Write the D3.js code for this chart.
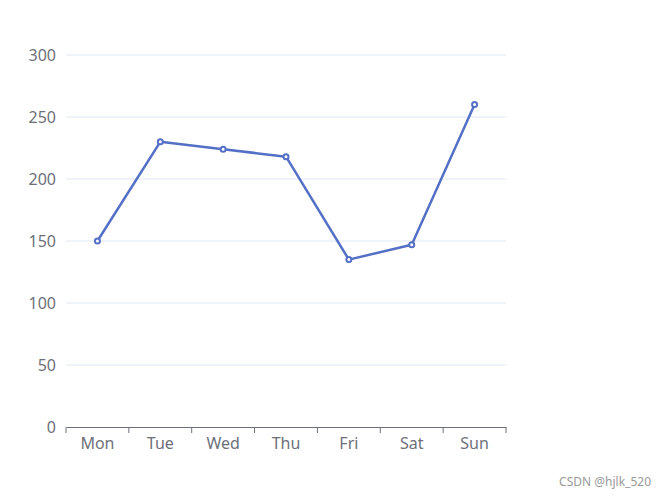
<!DOCTYPE html>
<html>
<head>
<meta charset="utf-8">
<script src="https://cdn.jsdelivr.net/npm/d3@7"></script>
<style>
  body { margin: 0; background: #fff; }
  text { font-family: "Microsoft YaHei", "Noto Sans", sans-serif; }
</style>
</head>
<body>
<svg id="chart" width="663" height="499"></svg>
<script>
const days = ["Mon", "Tue", "Wed", "Thu", "Fri", "Sat", "Sun"];
const values = [150, 230, 224, 218, 135, 147, 260];
const yTicks = [0, 50, 100, 150, 200, 250, 300];

const margin = { top: 55, right: 157, bottom: 72, left: 66 },
  width = 663 - margin.left - margin.right,
  height = 499 - margin.top - margin.bottom;

const svg = d3.select("#chart");
const g = svg.append("g").attr("transform", `translate(${margin.left},${margin.top})`);

const x = d3.scaleBand().domain(days).range([0, width]);
const y = d3.scaleLinear().domain([0, 300]).range([height, 0]);

// split lines
g.selectAll(".grid")
  .data(yTicks.slice(1))
  .enter()
  .append("line")
  .attr("x1", 0)
  .attr("x2", width)
  .attr("y1", (d) => y(d))
  .attr("y2", (d) => y(d))
  .attr("stroke", "#e0e6f1");

// y labels
g.selectAll(".ylab")
  .data(yTicks)
  .enter()
  .append("text")
  .attr("x", -10)
  .attr("y", (d) => y(d))
  .attr("dy", "0.35em")
  .attr("text-anchor", "end")
  .attr("fill", "#6e7079")
  .attr("font-size", 16)
  .text((d) => d);

// x axis
const xAxis = g.append("g")
  .attr("transform", `translate(0,${height})`)
  .call(d3.axisBottom(x).tickSize(0).tickSizeOuter(0));
xAxis.select(".domain").attr("stroke", "#6e7079");
xAxis.selectAll("text")
  .attr("fill", "#6e7079")
  .attr("font-size", 16)
  .attr("dy", "0")
  .attr("y", 22)
  .style("font-family", '"Microsoft YaHei", "Noto Sans", sans-serif');

// x ticks at band boundaries
const bounds = days.map((d) => x(d)).concat([width]);
g.selectAll(".xtick")
  .data(bounds)
  .enter()
  .append("line")
  .attr("x1", (d) => d)
  .attr("x2", (d) => d)
  .attr("y1", height)
  .attr("y2", height + 6)
  .attr("stroke", "#6e7079");

const cx = (d, i) => x(days[i]) + x.bandwidth() / 2;

g.append("path")
  .datum(values)
  .attr("fill", "none")
  .attr("stroke", "#5470c6")
  .attr("stroke-width", 2.5)
  .attr("stroke-linejoin", "round")
  .attr("d", d3.line().x(cx).y((d) => y(d)));

g.selectAll(".pt")
  .data(values)
  .enter()
  .append("circle")
  .attr("cx", cx)
  .attr("cy", (d) => y(d))
  .attr("r", 2.5)
  .attr("fill", "#fff")
  .attr("stroke", "#5470c6")
  .attr("stroke-width", 2);

// watermark
svg.append("text")
  .attr("x", 651)
  .attr("y", 486)
  .attr("text-anchor", "end")
  .attr("fill", "#999")
  .attr("font-size", 12)
  .text("CSDN @hjlk_520");
</script>
</body>
</html>
